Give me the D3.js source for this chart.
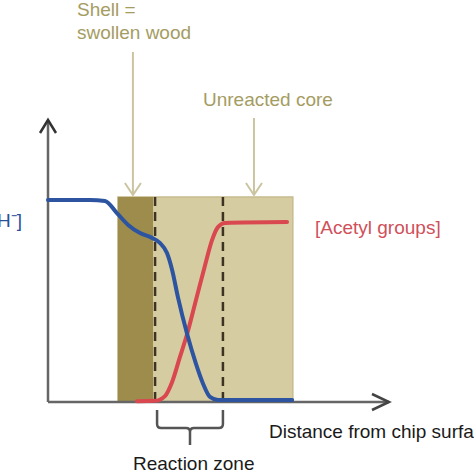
<!DOCTYPE html>
<html>
<head>
<meta charset="utf-8">
<script src="https://cdn.jsdelivr.net/npm/d3@7"></script>
<style>
  body { margin: 0; background: #fff; }
  svg { display: block; font-family: "Liberation Sans", Arial, sans-serif; }
</style>
</head>
<body>
<svg id="chart" width="474" height="474"></svg>
<script>
// Distance from surface (0-100) vs. concentration (0-100)
var ohX = [0, 12.3, 16.7, 20.2, 23.5, 27.0, 30.5, 32.8, 34.9, 36.4, 38.1, 40.8, 43.4, 45.5, 47.5, 49.9, 71.6];
var ohY = [71.6, 71.6, 71.3, 67.0, 62.8, 59.9, 58.2, 56.4, 52.8, 46.8, 37.2, 24.1, 13.5, 6.4, 1.8, 0.7, 0.7];
var acX = [26.1, 31.4, 34.3, 36.4, 38.7, 40.8, 43.7, 46.0, 48.1, 49.9, 51.9, 70.1];
var acY = [0.3, 0.4, 2.1, 7.1, 16.0, 24.1, 37.6, 48.2, 57.4, 62.1, 63.5, 63.8];

// particle zones: shell start, shell end, reaction zone start/end, core end, box top
var shellStart = 20.5, shellEnd = 30.8;
var reactStart = 31.4, reactEnd = 51.3;
var coreEnd = 71.8, boxTop = 72.7;
var shellArrowX = 24.9, coreArrowX = 60.4;

var labels = {
  shell: ["Shell =", "swollen wood"],
  core: "Unreacted core",
  acetyl: "[Acetyl groups]",
  oh: "[OH\u207B]",
  xTitle: "Distance from chip surface",
  zone: "Reaction zone"
};

var svg = d3.select('#chart');
var x = d3.scaleLinear().domain([0, 100]).range([48, 389]);
var y = d3.scaleLinear().domain([0, 100]).range([402, 120]);

var olive = '#a59c62', arrowCol = '#cbc4a0';

// box: unreacted core + reaction zone background
svg.append('rect')
    .attr('x', x(shellStart)).attr('y', y(boxTop))
    .attr('width', x(coreEnd) - x(shellStart)).attr('height', y(0) - y(boxTop))
    .attr('fill', '#d6cca2').attr('stroke', '#c7bc8e').attr('stroke-width', 1.5);
// shell
svg.append('rect')
    .attr('x', x(shellStart)).attr('y', y(boxTop))
    .attr('width', x(shellEnd) - x(shellStart)).attr('height', y(0) - y(boxTop))
    .attr('fill', '#9e8c4c');

// dashed reaction zone borders
svg.selectAll('line.zone').data([reactStart, reactEnd]).enter().append('line')
    .attr('class', 'zone')
    .attr('x1', d => x(d)).attr('x2', d => x(d))
    .attr('y1', y(boxTop)).attr('y2', y(0))
    .attr('stroke', '#3d3322').attr('stroke-width', 2.5)
    .attr('stroke-dasharray', '9,6');

// axes with open arrowheads
var axisCol = '#666';
svg.append('path')
    .attr('d', 'M' + x(0) + ',' + y(0) + 'L' + x(0) + ',' + y(100))
    .attr('stroke', axisCol).attr('stroke-width', 2.5).attr('fill', 'none');
svg.append('path')
    .attr('d', 'M' + (x(0) - 8) + ',' + (y(100) + 13) + 'L' + x(0) + ',' + y(100) + 'L' + (x(0) + 8) + ',' + (y(100) + 13))
    .attr('stroke', '#333').attr('stroke-width', 2.5).attr('fill', 'none');
svg.append('path')
    .attr('d', 'M' + x(0) + ',' + y(0) + 'L' + x(100) + ',' + y(0))
    .attr('stroke', axisCol).attr('stroke-width', 2.5).attr('fill', 'none');
svg.append('path')
    .attr('d', 'M' + (x(100) - 17) + ',' + (y(0) - 8) + 'L' + x(100) + ',' + y(0) + 'L' + (x(100) - 17) + ',' + (y(0) + 8))
    .attr('stroke', '#444').attr('stroke-width', 2.5).attr('fill', 'none');

// curves
var line = d3.line()
    .x(d => x(d[0])).y(d => y(d[1]))
    .curve(d3.curveMonotoneX);
svg.append('path')
    .attr('d', line(d3.zip(acX, acY)))
    .attr('fill', 'none').attr('stroke', '#d9474f').attr('stroke-width', 4)
    .attr('stroke-linecap', 'round');
svg.append('path')
    .attr('d', line(d3.zip(ohX, ohY)))
    .attr('fill', 'none').attr('stroke', '#2c54a0').attr('stroke-width', 4)
    .attr('stroke-linecap', 'round');

// pointer arrows
function pointer(xv, y0) {
    var px = x(xv), tip = y(boxTop) - 2;
    svg.append('line')
        .attr('x1', px).attr('x2', px).attr('y1', y0).attr('y2', tip)
        .attr('stroke', arrowCol).attr('stroke-width', 2);
    svg.append('path')
        .attr('d', 'M' + (px - 8) + ',' + (tip - 12) + 'L' + px + ',' + tip + 'L' + (px + 8) + ',' + (tip - 12))
        .attr('stroke', arrowCol).attr('stroke-width', 2).attr('fill', 'none');
}
pointer(shellArrowX, 52);
pointer(coreArrowX, 118);

// brace under reaction zone
var bx0 = x(reactStart) + 2, bx1 = x(reactEnd), bm = (bx0 + bx1) / 2;
svg.append('path')
    .attr('d', 'M' + bx0 + ',410 L' + bx0 + ',424 Q' + bx0 + ',428 ' + (bx0 + 4) + ',428 L' + (bm - 4) + ',428 Q' + bm + ',428 ' + bm + ',432 L' + bm + ',445'
        + ' M' + bm + ',432 Q' + bm + ',428 ' + (bm + 4) + ',428 L' + (bx1 - 4) + ',428 Q' + bx1 + ',428 ' + bx1 + ',424 L' + bx1 + ',410')
    .attr('stroke', '#555').attr('stroke-width', 2.5).attr('fill', 'none');

// labels
var fs = '19px';
svg.append('text').attr('x', 77).attr('y', 16).attr('fill', olive).style('font-size', fs).text(labels.shell[0]);
svg.append('text').attr('x', 77).attr('y', 39).attr('fill', olive).style('font-size', fs).text(labels.shell[1]);
svg.append('text').attr('x', 203).attr('y', 106).attr('fill', olive).style('font-size', fs).text(labels.core);
svg.append('text').attr('x', 315).attr('y', 234).attr('fill', '#d0505a').style('font-size', fs).text(labels.acetyl);
svg.append('text').attr('x', 22).attr('y', 227).attr('text-anchor', 'end').attr('fill', '#2c4f96').style('font-size', fs).text(labels.oh);
svg.append('text').attr('x', 269).attr('y', 438).attr('fill', '#1a1a1a').style('font-size', fs).text(labels.xTitle);
svg.append('text').attr('x', 133).attr('y', 470).attr('fill', '#1a1a1a').style('font-size', fs).text(labels.zone);
</script>
</body>
</html>
